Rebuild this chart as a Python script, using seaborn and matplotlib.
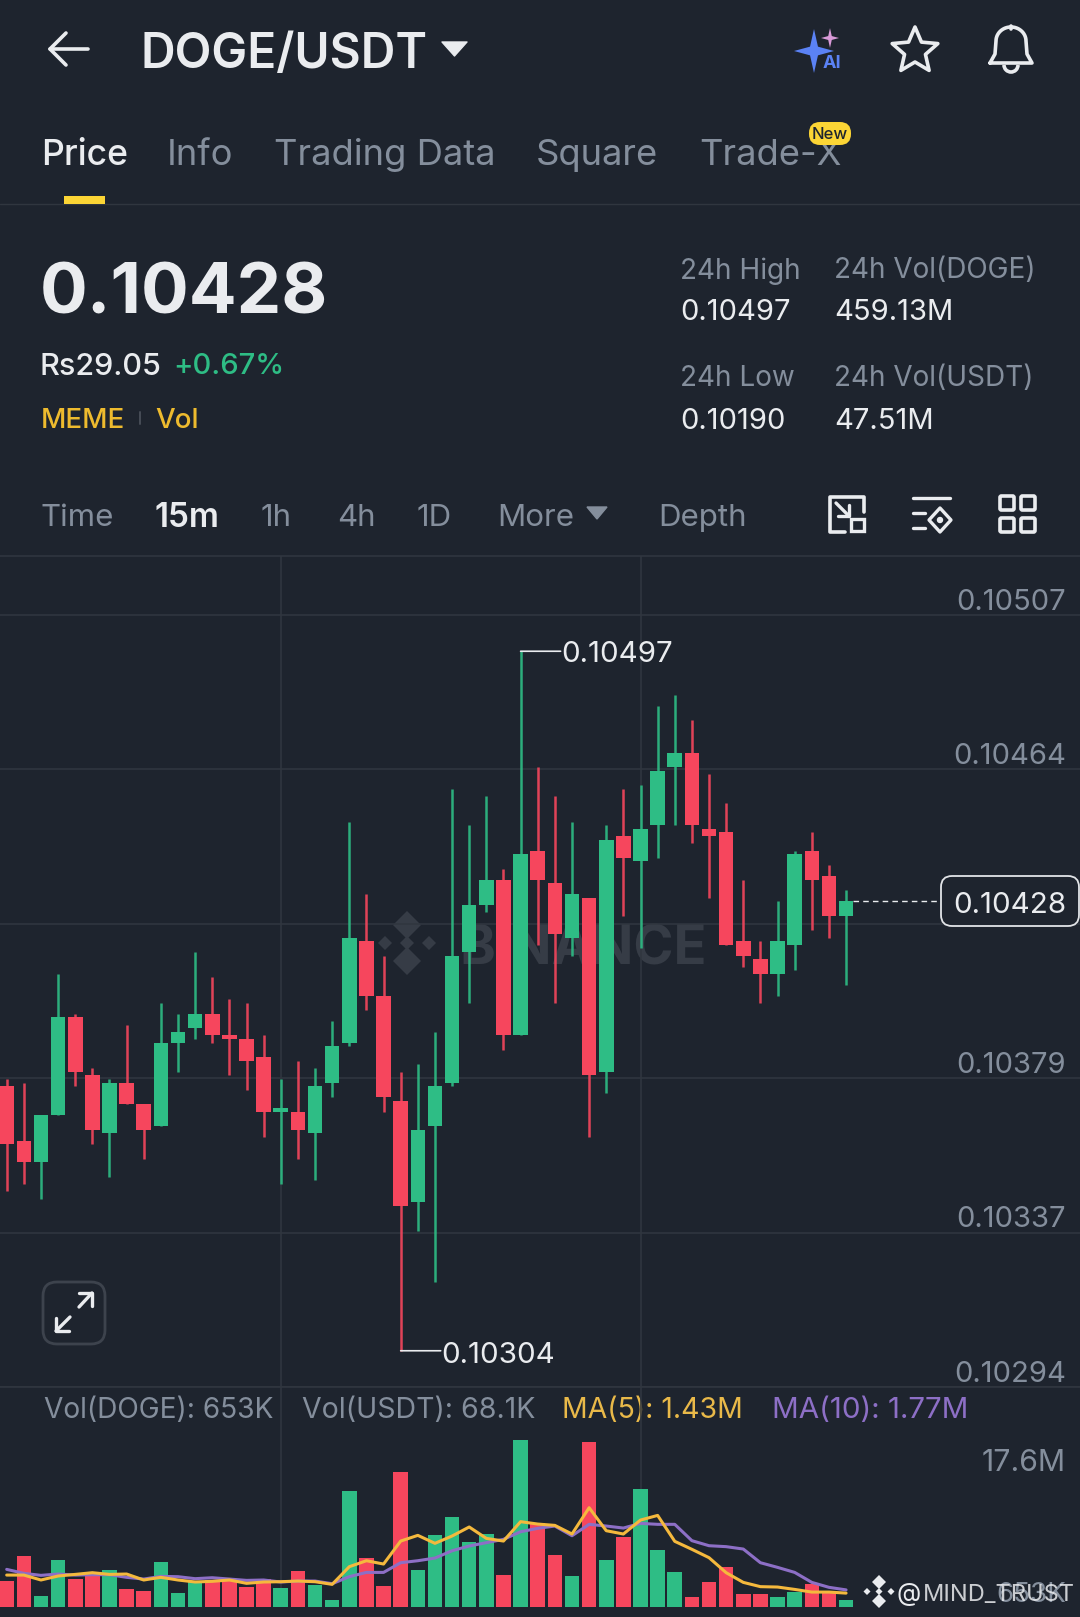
import numpy as np
import pandas as pd
import matplotlib
matplotlib.use("Agg")
import matplotlib.pyplot as plt
from matplotlib.patches import FancyBboxPatch, Polygon, Circle, Rectangle, Arc
import seaborn as sns

# ---------- data (prices in units of 0.00001) ----------
opens = [10377,10362,10356,10369,10396,10380,10364,10378,10372,10366,10389,10393,10397,10391,10390,10385,10370,10370,10364,10378,
         10389,10417,10402,10373,10345,10366,10378,10414,10427,10434,10391,10442,10433,10418,10429,10381,10446,10439,10449,10465,
         10469,10448,10447,10417,10412,10408,10416,10442,10435,10424]
closes = [10361,10356,10369,10396,10381,10365,10378,10372,10365,10389,10392,10397,10391,10390,10384,10370,10371,10365,10377,10388,
          10418,10402,10374,10344,10365,10377,10413,10427,10434,10391,10441,10434,10419,10430,10380,10445,10440,10448,10464,10469,
          10449,10446,10416,10413,10408,10417,10441,10434,10424,10428]
highs = [10379,10378,10369,10408,10397,10382,10379,10394,10372,10400,10397,10414,10407,10401,10400,10391,10379,10384,10382,10395,
         10450,10430,10413,10381,10383,10392,10459,10449,10457,10437,10497,10465,10457,10450,10429,10449,10459,10460,10482,10485,
         10478,10463,10455,10434,10417,10428,10442,10447,10438,10431]
lows = [10348,10350,10346,10369,10377,10361,10352,10372,10357,10366,10381,10390,10389,10380,10376,10363,10350,10357,10351,10374,
        10388,10398,10370,10304,10337,10323,10377,10400,10425,10387,10391,10416,10400,10413,10363,10375,10424,10415,10440,10449,
        10444,10429,10416,10410,10400,10402,10409,10420,10418,10405]
volumes = [2.74,5.33,1.12,4.91,2.88,3.44,3.86,1.89,1.65,4.70,1.44,2.60,2.81,2.81,2.04,2.91,1.93,3.72,2.32,0.70,
           12.14,5.12,2.18,14.18,3.86,7.51,9.44,6.77,7.68,3.33,17.6,8.77,5.44,3.23,17.3,4.91,7.33,12.39,5.93,3.68,
           1.02,2.60,4.21,1.37,1.37,0.98,1.54,2.42,1.47,0.653]
ma5 = [3.33,3.33,2.81,3.23,3.40,3.58,3.40,3.44,2.81,3.09,2.81,2.60,2.67,2.81,2.46,2.60,2.63,2.70,2.63,2.35,
       4.21,4.84,4.49,6.91,7.51,6.67,7.44,8.39,7.19,6.91,8.95,8.70,8.56,7.65,10.42,8.00,7.65,9.12,9.61,6.88,
       6.04,5.16,3.58,2.56,2.11,2.07,1.82,1.54,1.54,1.43]
ma10 = [3.93,3.51,3.30,3.44,3.33,3.37,3.37,3.09,2.91,3.19,3.16,2.95,3.05,2.91,2.77,2.81,2.60,2.70,2.70,2.42,
        3.16,3.61,3.61,4.63,4.84,5.12,5.89,6.39,6.74,7.09,7.89,8.25,8.49,7.47,8.67,8.49,8.28,8.77,8.67,8.67,
        6.95,6.42,6.32,6.07,4.63,4.14,3.61,2.56,2.04,1.77]
price_ticks = [0.10507, 0.104644, 0.104218, 0.103792, 0.103366, 0.10294]
price_labels = ["0.10507", "0.10464", "", "0.10379", "0.10337", "0.10294"]
grid_candles = [16, 37]
last_price = 0.10428
high_price = 0.10497
low_price = 0.10304

# ---------- style ----------
BG = "#1e242e"; GRID = "#30363f"; GREEN = "#2ebd85"; RED = "#f6465d"
WHITE = "#eaecef"; GREY = "#848e9c"; YEL = "#f0b90b"; MAY = "#f5b93d"; PUR = "#8d6fc6"; MARK = "#363c46"
sns.set_theme(style="dark", rc={"figure.facecolor": BG, "axes.facecolor": BG, "savefig.facecolor": BG})
plt.rcParams["font.family"] = ["Inter", "DejaVu Sans"]

W, H = 1080, 1617
fig = plt.figure(figsize=(W/100, H/100), dpi=100)

# overlay in pixel coordinates for the app chrome
ui = fig.add_axes([0, 0, 1, 1], zorder=0)
ui.set_xlim(0, W); ui.set_ylim(H, 0); ui.axis("off")

def axpx(top, bottom, z):
    return fig.add_axes([0, 1-bottom/H, 1, (bottom-top)/H], zorder=z)

def T(x, y, s, size, color=GREY, weight="normal", ha="left", **kw):
    return ui.text(x, y, s, fontsize=size, color=color, fontweight=weight, ha=ha, va="center_baseline", **kw)

# ---- header ----
ui.plot([50, 88], [49, 49], color=WHITE, lw=2.6, solid_capstyle="round")
ui.plot([66, 50, 66], [33, 49, 65], color=WHITE, lw=2.6, solid_capstyle="round", solid_joinstyle="round")
T(141, 50, "DOGE/USDT", 34.5, WHITE, "semibold")
ui.add_patch(Polygon([[442, 42], [467, 42], [454.5, 56]], color=WHITE, joinstyle="round"))

def sparkle(cx, cy, r, color, k=0.28):
    pts = []
    for a in range(8):
        ang = np.pi/4*a
        rr = r if a % 2 == 0 else r*k
        pts.append([cx+rr*np.sin(ang), cy-rr*np.cos(ang)*1.1])
    ui.add_patch(Polygon(pts, color=color, lw=0))
sparkle(814, 51, 20, "#5b82f5")
sparkle(830, 38, 9, "#d99ad8")
T(832, 62, "AI", 13, "#5b82f5", "bold", ha="center")

ang = np.linspace(-np.pi/2, 1.5*np.pi, 11)[:-1]
rad = np.where(np.arange(10) % 2 == 0, 24, 11)
ui.add_patch(Polygon(np.c_[915+rad*np.cos(ang), 51+rad*np.sin(ang)], fill=False, ec=WHITE, lw=2.6, joinstyle="round"))

bx = 1011
t = np.linspace(np.pi, 0, 30)
px = [bx-21, bx-16] + list(bx+15*np.cos(t)) + [bx+16, bx+21, bx-21]
py = [63, 54] + list(41-14*np.sin(t)) + [54, 63, 63]
ui.plot(px, py, color=WHITE, lw=2.6, solid_joinstyle="round")
ui.add_patch(Arc((bx, 65), 14, 14, theta1=0, theta2=180, color=WHITE, lw=2.6))
ui.plot([bx, bx], [26, 29], color=WHITE, lw=2.6)

# ---- tabs ----
T(41, 152, "Price", 25.6, WHITE, "medium")
for x, s in [(167, "Info"), (274, "Trading Data"), (536, "Square"), (699, "Trade-X")]:
    T(x, 152, s, 26.2, GREY)
ui.add_patch(FancyBboxPatch((809, 122), 42, 23, boxstyle="round,pad=0,rounding_size=11", color="#fcd535", lw=0, zorder=3))
T(830, 133, "New", 12, "#1e242e", "medium", ha="center", zorder=4)
ui.add_patch(Rectangle((64, 196), 41, 8, color="#fcd535", lw=0, zorder=3))
ui.plot([0, W], [204.5, 204.5], color=GRID, lw=1)

# ---- price block ----
T(40, 288, "0.10428", 51, WHITE, "bold")
T(40, 364, "Rs29.05", 22, WHITE, "medium")
T(173, 364, "+0.67%", 21, GREEN, "medium")
T(41, 418, "MEME", 20, "#eebb2e", "medium")
T(155, 418, "Vol", 20, "#eebb2e", "medium")
ui.plot([139.5, 139.5], [412, 424], color="#474d57", lw=1.4)
for x, a, b, c, d in [(680, "24h High", "0.10497", "24h Low", "0.10190"),
                      (834, "24h Vol(DOGE)", "459.13M", "24h Vol(USDT)", "47.51M")]:
    T(x, 268, a, 20.1, GREY); T(x, 310, b, 21, WHITE)
    T(x, 375, c, 20.1, GREY); T(x, 418, d, 21, WHITE)

# ---- interval row ----
for x, s in [(41, "Time"), (261, "1h"), (337, "4h"), (417, "1D"), (497, "More"), (658, "Depth")]:
    T(x, 515, s, 22.5, GREY)
T(155, 514, "15m", 24, WHITE, "semibold")
ui.add_patch(Polygon([[587, 507], [607, 507], [597, 519]], color=GREY))
ui.plot([0, W], [556, 556], color=GRID, lw=1.2)

# icon 1
ui.plot([845, 830, 830, 864, 864], [532, 532, 497, 497, 512], color=WHITE, lw=2.6)
ui.plot([836, 849], [503, 516], color=WHITE, lw=2.4)
ui.plot([838, 849, 849], [516, 516, 505], color=WHITE, lw=2.4)
ui.add_patch(Rectangle((851, 519), 13, 12, fill=False, ec=WHITE, lw=2.4))
# icon 2
for y, x0, x1 in [(498, 913, 950), (513, 913, 925), (528, 913, 925)]:
    ui.plot([x0, x1], [y, y], color=WHITE, lw=2.4)
ui.add_patch(Polygon([[940, 508], [951, 520], [940, 532], [929, 520]], fill=False, ec=WHITE, lw=2.4, joinstyle="round"))
ui.add_patch(Circle((940, 520), 2.5, color=WHITE))
# icon 3
for x in (1000, 1021):
    for y in (496, 518):
        ui.add_patch(FancyBboxPatch((x, y), 14, 14, boxstyle="round,pad=0,rounding_size=1.5", fill=False, ec=WHITE, lw=2.6))

# watermark
T(459, 944, "BINANCE", 39, MARK, "bold")
for (cx, cy, r) in [(407, 925, 14), (407, 961, 14), (385, 943, 7), (429, 943, 7), (407, 943, 7)]:
    ui.add_patch(Polygon([[cx, cy-r], [cx+r, cy], [cx, cy+r], [cx-r, cy]], color=MARK, lw=0))

# ---------- candlesticks ----------
PX0, PITCH = 6.7, 17.13
xlim = ((0-PX0)/PITCH, (W-PX0)/PITCH)
PRICE_PER_PX = 0.00213/772
top_px, bot_px = 556, 1387
ylim = (0.10507-(bot_px-615)*PRICE_PER_PX, 0.10507+(615-top_px)*PRICE_PER_PX)

ax = axpx(top_px, bot_px, 2)
ax.patch.set_alpha(0)
idx = np.arange(len(opens))
o, c, h, l = [np.array(v)/1e5 for v in (opens, closes, highs, lows)]
colors = np.where(c >= o, GREEN, RED)
ax.vlines(idx, l, h, colors=colors, lw=1.8, alpha=.9, zorder=3)
ax.bar(idx, np.abs(c-o), bottom=np.minimum(o, c), width=.85, color=colors, linewidth=0, zorder=4)
ax.set_xlim(*xlim); ax.set_ylim(*ylim)
ax.set_xticks(grid_candles); ax.set_yticks(price_ticks)
ax.tick_params(length=0, labelleft=False, labelbottom=False)
ax.grid(True, color=GRID, lw=1.2); ax.set_axisbelow(True)
for s in ax.spines.values():
    s.set_visible(False)
ax.spines["bottom"].set_visible(True); ax.spines["bottom"].set_color(GRID); ax.spines["bottom"].set_linewidth(1.2)
for p, lab in zip(price_ticks, price_labels):
    if lab:
        ax.annotate(lab, xy=(1, p), xycoords=("axes fraction", "data"), xytext=(-14, 16),
                    textcoords="offset pixels", ha="right", va="center_baseline", fontsize=21, color=GREY, zorder=2)

hi_i, lo_i = int(np.argmax(h)), int(np.argmin(l))
for i, p, dy in [(hi_i, high_price, 0), (lo_i, low_price, -2)]:
    ax.annotate("", xy=(i, p), xytext=(40, 0), textcoords="offset pixels",
                arrowprops=dict(arrowstyle="-", color=WHITE, lw=1.2, shrinkA=0, shrinkB=0), zorder=6)
    ax.annotate(f"{p:.5f}", xy=(i, p), xytext=(41, dy), textcoords="offset pixels", ha="left", va="center_baseline",
                fontsize=21.3, color=WHITE, zorder=6)

ax.plot([idx[-1]+.43, (941-PX0)/PITCH], [last_price, last_price], color=WHITE, lw=1, ls=(0, (4, 3)), zorder=5)
# last price tag
ui2 = fig.add_axes([0, 0, 1, 1], zorder=5); ui2.set_xlim(0, W); ui2.set_ylim(H, 0); ui2.axis("off")
ui2.add_patch(FancyBboxPatch((941, 876), 138, 50, boxstyle="round,pad=0,rounding_size=11", fc=BG, ec=WHITE, lw=1.3, alpha=.96))
ui2.text(1066, 902, f"{last_price:.5f}", fontsize=21.3, color=WHITE, ha="right", va="center_baseline")
# expand button
ui2.add_patch(FancyBboxPatch((43, 1282), 62, 62, boxstyle="round,pad=0,rounding_size=14", fill=False, ec="#3d434d", lw=2))
ui2.plot([79, 92], [1307, 1293], color=WHITE, lw=2.4)
ui2.plot([79, 92, 92], [1293, 1293, 1306], color=WHITE, lw=2.4)
ui2.plot([56, 70], [1331, 1317], color=WHITE, lw=2.4)
ui2.plot([56, 56, 69], [1318, 1331, 1331], color=WHITE, lw=2.4)

# ---------- volume ----------
vbot_px = 1606.7
vax = axpx(bot_px, vbot_px, 2)
vax.patch.set_alpha(0)
df = pd.DataFrame({"idx": idx, "vol": volumes, "dir": np.where(c >= o, "up", "down")})
sns.barplot(data=df, x="idx", y="vol", hue="dir", palette={"up": GREEN, "down": RED}, dodge=False, width=.85,
            native_scale=True, errorbar=None, legend=False, saturation=1, linewidth=0, ax=vax, zorder=3)
sns.lineplot(x=idx[:len(ma10)], y=ma10, color=PUR, lw=2.2, ax=vax, zorder=4, errorbar=None)
sns.lineplot(x=idx[:len(ma5)], y=ma5, color=MAY, lw=2.2, ax=vax, zorder=5, errorbar=None)
vax.set_xlim(*xlim); vax.set_ylim(0, (vbot_px-bot_px)/9.5)
vax.set_xticks(grid_candles); vax.set_yticks([])
vax.tick_params(length=0, labelbottom=False, labelleft=False)
vax.set_xlabel(""); vax.set_ylabel("")
vax.grid(True, axis="x", color=GRID, lw=1.2); vax.set_axisbelow(True)
for s in vax.spines.values():
    s.set_visible(False)

T(44, 1407, "Vol(DOGE): 653K", 20.2, GREY)
T(302, 1407, "Vol(USDT): 68.1K", 20.5, GREY)
T(562, 1407, "MA(5): 1.43M", 20.5, "#e9b949")
T(772, 1407, "MA(10): 1.77M", 21.3, PUR)
T(1066, 1460, "17.6M", 21.8, GREY, ha="right")
T(1066, 1592, "653K", 20, GREY, ha="right")
ui2.text(897, 1592, "@", fontsize=18, color=WHITE, va="center_baseline", ha="left")
ui2.text(923, 1592, "MIND_TRUST", fontsize=17, color=WHITE, va="center_baseline", ha="left", alpha=.85)
for (cx, cy, r) in [(879, 1582, 7), (879, 1601, 7), (867, 1591.5, 3.5), (891, 1591.5, 3.5), (879, 1591.5, 3.5)]:
    ui2.add_patch(Polygon([[cx, cy-r], [cx+r, cy], [cx, cy+r], [cx-r, cy]], color=WHITE, lw=0))

fig.savefig("out.png", dpi=100)
